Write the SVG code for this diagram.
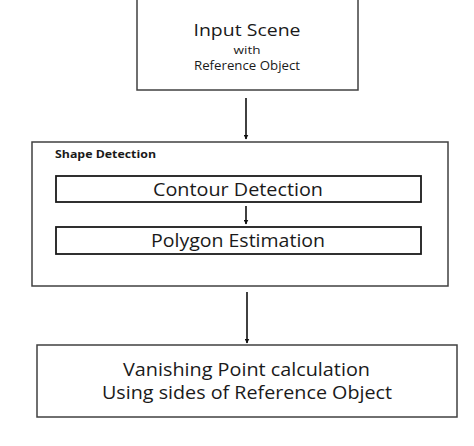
<svg xmlns="http://www.w3.org/2000/svg" width="474" height="446" viewBox="0 0 474 446">
<defs>
<style>
.box{fill:#fff;stroke:#404040;stroke-width:1.5}
.inner{fill:#fff;stroke:#1a1a1a;stroke-width:1.8}
.t{font-family:"Open Sans","Liberation Sans",sans-serif;fill:#1a1a1a;text-anchor:middle}
.conn{stroke:#111;stroke-width:1.6;fill:none}
</style>
<marker id="ah" viewBox="0 0 10 10" refX="9" refY="5" markerWidth="5" markerHeight="5" orient="auto" markerUnits="userSpaceOnUse">
<path d="M0,0 L10,5 L0,10 z" fill="#111"/>
</marker>
</defs>
<rect width="474" height="446" fill="#fff"/>
<g id="input-scene">
<rect class="box" x="137" y="-2" width="221" height="92"/>
<text class="t" x="247" y="36" font-size="17" textLength="107" lengthAdjust="spacingAndGlyphs">Input Scene</text>
<text class="t" x="247" y="54" font-size="11" textLength="27" lengthAdjust="spacingAndGlyphs">with</text>
<text class="t" x="247" y="70" font-size="12" textLength="106" lengthAdjust="spacingAndGlyphs">Reference Object</text>
</g>
<g id="shape-detection">
<rect class="box" x="32" y="142" width="416" height="144"/>
<text x="55" y="158" font-family="Open Sans,Liberation Sans,sans-serif" font-size="10.5" font-weight="bold" fill="#1a1a1a" textLength="101" lengthAdjust="spacingAndGlyphs">Shape Detection</text>
</g>
<g id="contour-detection">
<rect class="inner" x="56" y="176" width="365" height="26"/>
<text class="t" x="238" y="196" font-size="18.5" textLength="170" lengthAdjust="spacingAndGlyphs">Contour Detection</text>
</g>
<g id="polygon-estimation">
<rect class="inner" x="56" y="227" width="365" height="27"/>
<text class="t" x="238" y="247" font-size="18.5" textLength="174" lengthAdjust="spacingAndGlyphs">Polygon Estimation</text>
</g>
<g id="vanishing-point">
<rect class="box" x="37" y="345" width="420" height="72"/>
<text class="t" x="246.5" y="376" font-size="18.5" textLength="247" lengthAdjust="spacingAndGlyphs">Vanishing Point calculation</text>
<text class="t" x="247" y="399" font-size="18.5" textLength="290" lengthAdjust="spacingAndGlyphs">Using sides of Reference Object</text>
</g>
<g id="connectors">
<line class="conn" x1="246" y1="98" x2="246" y2="139" marker-end="url(#ah)"/>
<line class="conn" x1="246" y1="206" x2="246" y2="224" marker-end="url(#ah)"/>
<line class="conn" x1="247" y1="292" x2="247" y2="343" marker-end="url(#ah)"/>
</g>
</svg>
